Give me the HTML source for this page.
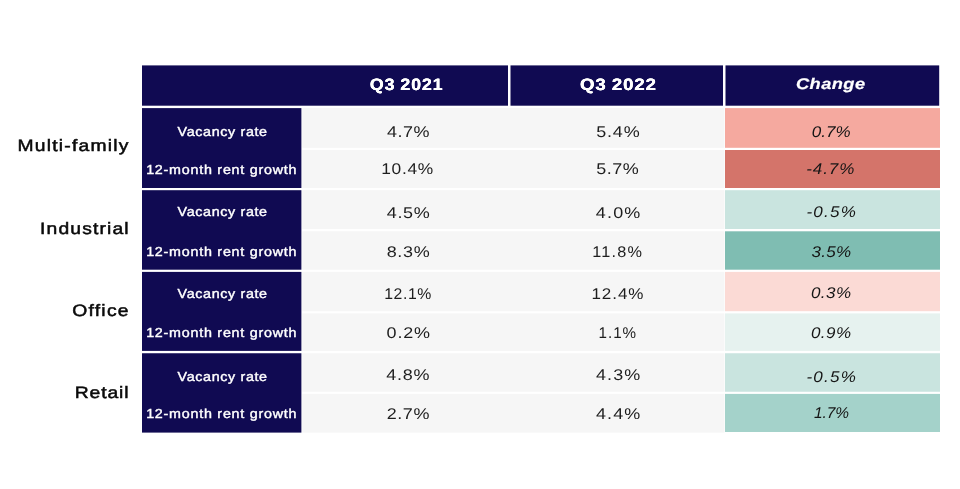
<!DOCTYPE html>
<html lang="en"><head><meta charset="utf-8"><title>Vacancy and rent growth</title>
<style>
html,body{margin:0;padding:0;background:#fff;}
body{width:960px;height:489px;position:relative;overflow:hidden;font-family:"Liberation Sans",Arial,sans-serif;}
.b{position:absolute;}
.t{position:absolute;white-space:nowrap;line-height:20px;height:20px;transform-origin:0 50%;}
.h{color:#fff;font-weight:700;font-size:16.5px;transform:scaleX(1.13);text-shadow:0.15px 0 0 #fff,-0.15px 0 0 #fff;word-spacing:-0.8px;}
.hc{color:#fff;font-weight:700;font-style:italic;font-size:15.5px;transform:scaleX(1.18);-webkit-text-stroke:0.2px #fff;}
.cat{color:#0a0a0a;font-size:16.5px;transform:scaleX(1.17);-webkit-text-stroke:0.5px #0a0a0a;}
.lab{color:#fff;font-size:13px;transform:scaleX(1.1);-webkit-text-stroke:0.4px #fff;}
.v{color:#1e1e1e;font-size:15.5px;transform:scaleX(1.16);}
.c{color:#151515;font-size:15.5px;font-style:italic;transform:scaleX(1.1);}
</style></head><body>
<svg class="b" style="left:0;top:0" width="960" height="489" viewBox="0 0 960 489">
<rect x="142" y="65.4" width="366" height="40.3" fill="#100a52"/>
<rect x="510.5" y="65.4" width="212.5" height="40.3" fill="#100a52"/>
<rect x="725.5" y="65.4" width="213.7" height="40.3" fill="#100a52"/>
<rect x="142" y="108.1" width="159.4" height="79.9" fill="#100a52"/>
<rect x="302.3" y="108.1" width="422.1" height="39.7" fill="#f6f6f6"/>
<rect x="302.3" y="150.0" width="422.1" height="38.0" fill="#f6f6f6"/>
<rect x="725" y="108.1" width="215" height="39.7" fill="#f5a99f"/>
<rect x="725" y="150.0" width="215" height="38.0" fill="#d4746a"/>
<rect x="142" y="190.2" width="159.4" height="79.5" fill="#100a52"/>
<rect x="302.3" y="190.2" width="422.1" height="38.8" fill="#f6f6f6"/>
<rect x="302.3" y="231.3" width="422.1" height="38.4" fill="#f6f6f6"/>
<rect x="725" y="190.2" width="215" height="38.8" fill="#c9e4df"/>
<rect x="725" y="231.3" width="215" height="38.4" fill="#7fbdb2"/>
<rect x="142" y="271.9" width="159.4" height="79.0" fill="#100a52"/>
<rect x="302.3" y="271.9" width="422.1" height="39.3" fill="#f6f6f6"/>
<rect x="302.3" y="313.4" width="422.1" height="37.5" fill="#f6f6f6"/>
<rect x="725" y="271.9" width="215" height="39.3" fill="#fbdad5"/>
<rect x="725" y="313.4" width="215" height="37.5" fill="#e6f2ef"/>
<rect x="142" y="353.25" width="159.4" height="79.35" fill="#100a52"/>
<rect x="302.3" y="353.25" width="422.1" height="38.5" fill="#f6f6f6"/>
<rect x="302.3" y="393.9" width="422.1" height="38.7" fill="#f6f6f6"/>
<rect x="725" y="353.25" width="215" height="38.5" fill="#c9e4df"/>
<rect x="725" y="393.9" width="215" height="38.1" fill="#a4d2ca"/>
</svg>
<div class="t h" style="left:369px;top:74px;letter-spacing:0.81px;transform:translateX(0.86px) scaleX(1.08) skewX(.05deg)">Q3 2021</div>
<div class="t h" style="left:579px;top:74px;letter-spacing:0.79px;transform:translateX(0.97px) scaleX(1.13) skewX(.05deg)">Q3 2022</div>
<div class="t hc" style="left:795px;top:74px;letter-spacing:0.36px;transform:translateX(0.91px) scaleX(1.18) skewX(.05deg)">Change</div>
<div class="t cat" style="left:17px;top:135px;letter-spacing:1.04px;transform:translateX(0.44px) scaleX(1.17) skewX(.05deg)">Multi-family</div>
<div class="t cat" style="left:40px;top:218px;letter-spacing:0.97px;transform:translateX(0.02px) scaleX(1.17) skewX(.05deg)">Industrial</div>
<div class="t cat" style="left:72px;top:300px;letter-spacing:1.05px;transform:translateX(0.28px) scaleX(1.17) skewX(.05deg)">Office</div>
<div class="t cat" style="left:74px;top:382px;letter-spacing:0.77px;transform:translateX(0.65px) scaleX(1.17) skewX(.05deg)">Retail</div>
<div class="t lab" style="left:177px;top:122px;letter-spacing:0.59px;transform:translateX(0.52px) scaleX(1.1) skewX(.05deg)">Vacancy rate</div>
<div class="t lab" style="left:146px;top:160px;letter-spacing:0.69px;transform:translateX(0.14px) scaleX(1.1) skewX(.05deg)">12-month rent growth</div>
<div class="t lab" style="left:177px;top:202px;letter-spacing:0.59px;transform:translateX(0.52px) scaleX(1.1) skewX(.05deg)">Vacancy rate</div>
<div class="t lab" style="left:146px;top:242px;letter-spacing:0.69px;transform:translateX(0.14px) scaleX(1.1) skewX(.05deg)">12-month rent growth</div>
<div class="t lab" style="left:177px;top:284px;letter-spacing:0.59px;transform:translateX(0.52px) scaleX(1.1) skewX(.05deg)">Vacancy rate</div>
<div class="t lab" style="left:146px;top:323px;letter-spacing:0.69px;transform:translateX(0.14px) scaleX(1.1) skewX(.05deg)">12-month rent growth</div>
<div class="t lab" style="left:177px;top:367px;letter-spacing:0.59px;transform:translateX(0.52px) scaleX(1.1) skewX(.05deg)">Vacancy rate</div>
<div class="t lab" style="left:146px;top:404px;letter-spacing:0.69px;transform:translateX(0.14px) scaleX(1.1) skewX(.05deg)">12-month rent growth</div>
<div class="t v" style="left:386px;top:122px;letter-spacing:0.43px;transform:translateX(0.94px) scaleX(1.16) skewX(.05deg)">4.7%</div>
<div class="t v" style="left:381px;top:159px;letter-spacing:0.61px;transform:translateX(0.22px) scaleX(1.12) skewX(.05deg)">10.4%</div>
<div class="t v" style="left:386px;top:203px;letter-spacing:0.54px;transform:translateX(0.84px) scaleX(1.16) skewX(.05deg)">4.5%</div>
<div class="t v" style="left:386px;top:242px;letter-spacing:0.59px;transform:translateX(0.64px) scaleX(1.16) skewX(.05deg)">8.3%</div>
<div class="t v" style="left:384px;top:284px;letter-spacing:0.54px;transform:translateX(0.27px) scaleX(1.02) skewX(.05deg)">12.1%</div>
<div class="t v" style="left:386px;top:323px;letter-spacing:0.68px;transform:translateX(0.59px) scaleX(1.16) skewX(.05deg)">0.2%</div>
<div class="t v" style="left:386px;top:365px;letter-spacing:0.65px;transform:translateX(0.35px) scaleX(1.16) skewX(.05deg)">4.8%</div>
<div class="t v" style="left:386px;top:404px;letter-spacing:0.5px;transform:translateX(0.66px) scaleX(1.16) skewX(.05deg)">2.7%</div>
<div class="t v" style="left:596px;top:122px;letter-spacing:0.72px;transform:translateX(0.16px) scaleX(1.16) skewX(.05deg)">5.4%</div>
<div class="t v" style="left:596px;top:159px;letter-spacing:0.44px;transform:translateX(0.16px) scaleX(1.16) skewX(.05deg)">5.7%</div>
<div class="t v" style="left:595px;top:203px;letter-spacing:1.02px;transform:translateX(0.78px) scaleX(1.16) skewX(.05deg)">4.0%</div>
<div class="t v" style="left:592px;top:242px;letter-spacing:1.16px;transform:translateX(0.24px) scaleX(1.05) skewX(.05deg)">11.8%</div>
<div class="t v" style="left:591px;top:284px;letter-spacing:0.85px;transform:translateX(0.44px) scaleX(1.1) skewX(.05deg)">12.4%</div>
<div class="t v" style="left:598px;top:323px;letter-spacing:1.02px;transform:translateX(0.5px) scaleX(0.98) skewX(.05deg)">1.1%</div>
<div class="t v" style="left:595px;top:365px;letter-spacing:0.97px;transform:translateX(0.96px) scaleX(1.16) skewX(.05deg)">4.3%</div>
<div class="t v" style="left:595px;top:404px;letter-spacing:0.97px;transform:translateX(0.96px) scaleX(1.16) skewX(.05deg)">4.4%</div>
<div class="t c" style="left:811px;top:122px;letter-spacing:0.07px;transform:translateX(0.67px) scaleX(1.1) skewX(.05deg)">0.7%</div>
<div class="t c" style="left:806px;top:159px;letter-spacing:0.8px;transform:translateX(0.25px) scaleX(1.1) skewX(.05deg)">-4.7%</div>
<div class="t c" style="left:806px;top:202px;letter-spacing:1.15px;transform:translateX(0.4px) scaleX(1.1) skewX(.05deg)">-0.5%</div>
<div class="t c" style="left:811px;top:242px;letter-spacing:0.22px;transform:translateX(0.46px) scaleX(1.1) skewX(.05deg)">3.5%</div>
<div class="t c" style="left:810px;top:283px;letter-spacing:0.43px;transform:translateX(0.89px) scaleX(1.1) skewX(.05deg)">0.3%</div>
<div class="t c" style="left:810px;top:323px;letter-spacing:0.4px;transform:translateX(0.92px) scaleX(1.1) skewX(.05deg)">0.9%</div>
<div class="t c" style="left:806px;top:367px;letter-spacing:1.15px;transform:translateX(0.4px) scaleX(1.1) skewX(.05deg)">-0.5%</div>
<div class="t c" style="left:813px;top:403px;letter-spacing:-0.06px;transform:translateX(0.94px) scaleX(1.0) skewX(.05deg)">1.7%</div>
</body></html>
